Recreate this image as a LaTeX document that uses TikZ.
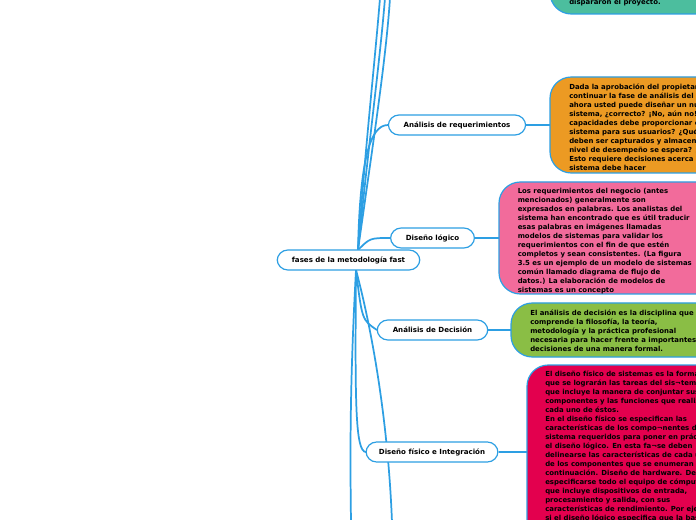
\documentclass[tikz,border=0pt]{standalone}
\usepackage{fontspec}
\setmainfont{DejaVu Sans}
\begin{document}
\begin{tikzpicture}[x=0.75pt,y=-0.75pt,
  branch/.style={draw=cLn, line width=0.9pt, fill=white, rounded corners=8pt, minimum height=15pt, inner xsep=4pt, font=\bfseries\fontsize{5.3}{6.5}\selectfont},
  link/.style={draw=cLn, line width=1.3pt},
  card/.style={draw=cLn, line width=0.9pt, rounded corners=16pt},
  txt/.style={anchor=north west, align=left, inner sep=0pt, font=\bfseries\fontsize{5.2}{6.75}\selectfont}]
\definecolor{cOr}{HTML}{EC9A23}
\definecolor{cPk}{HTML}{F26B9B}
\definecolor{cGr}{HTML}{8ABE45}
\definecolor{cRd}{HTML}{E3004E}
\definecolor{cTl}{HTML}{4CBE9E}
\definecolor{cLn}{HTML}{2D9FE3}
\useasboundingbox (0,0) rectangle (696,520);
\clip (0,0) rectangle (696,520);
\fill[white] (0,0) rectangle (696,520);
% cards
\draw[card,fill=cTl] (550,-80) rectangle (720,14);
\draw[card,fill=cOr] (550,77) rectangle (720,173);
\draw[card,fill=cPk] (499,182) rectangle (720,294);
\draw[card,fill=cGr] (511,303) rectangle (720,357);
\draw[card,fill=cRd] (527,365) rectangle (720,560);
\coordinate (or) at (550,125);
\coordinate (pk) at (499,238);
\coordinate (gr) at (511,330);
\coordinate (rd) at (527,452);
\coordinate (up1) at (380,-2);
\coordinate (up2) at (385,-2);
\coordinate (up3) at (390,-2);
\coordinate (dn1) at (351,522);
\coordinate (dn2) at (392,522);
\coordinate (rn) at (358,250);
\coordinate (rs) at (356,270);
\draw[link] (rn) .. controls (365,150) and (375,60) .. (up1);
\draw[link] (rn) .. controls (368,150) and (380,60) .. (up2);
\draw[link] (rn) .. controls (372,150) and (386,60) .. (up3);
\draw[link] (rn) .. controls (360,160) and (370,125) .. (388,125);
\draw[link] (rn) .. controls (370,238) .. (390,238);
\draw[link] (rs) .. controls (362,320) .. (377,330);
\draw[link] (rs) .. controls (355,400) and (355,452) .. (366,452);
\draw[link] (rs) .. controls (350,380) and (350,450) .. (dn1);
\draw[link] (rs) .. controls (372,330) and (388,420) .. (dn2);
% root and branches
\node[branch, minimum width=107pt] (root) at (348.5,260) {fases de la metodología fast};
\node[branch, minimum width=103pt] (ar) at (457,125) {Análisis de requerimientos};
\node[branch, minimum width=63pt] (dl) at (432.5,238) {Diseño lógico};
\node[branch, minimum width=83pt] (ad) at (432.5,330) {Análisis de Decisión};
\node[branch, minimum width=99pt] (df) at (432,452) {Diseño físico e Integración};
\draw[link] (ar.east) -- (or);
\draw[link] (dl.east) -- (pk);
\draw[link] (ad.east) -- (gr);
\draw[link] (df.east) -- (rd);
% texts
\node[txt] (t0) at (569,-1) {dispararon el proyecto.};
\node[txt] (t1) at (569,84) {Dada la aprobación del propietario para\\continuar la fase de análisis  del sistema,\\ahora usted puede diseñar un nuevo\\sistema, ¿correcto? ¡No, aún no! ¿Qué\\capacidades debe proporcionar el nuevo\\sistema para sus usuarios? ¿Qué datos\\deben ser  capturados y almacenados? ¿Qué\\nivel de desempeño se espera? ¡Etcétera!\\Esto requiere  decisiones acerca de lo que el\\sistema debe hacer};
\node[txt] (t2) at (517.5,188) {Los requerimientos del negocio (antes\\mencionados) generalmente son\\expresados  en palabras. Los analistas del\\sistema han encontrado que es útil traducir\\esas palabras en imágenes  llamadas\\modelos de sistemas para validar los\\requerimientos con el fin de que estén\\completos y  sean consistentes. (La figura\\3.5 es un ejemplo de un modelo de sistemas\\común llamado diagrama  de flujo de\\datos.) La elaboración de modelos de\\sistemas es un concepto};
\node[txt] (t3) at (530,310) {El análisis de decisión es la disciplina que\\comprende la filosofía, la teoría,\\metodología y la práctica profesional\\necesaria para hacer frente a importantes\\decisiones de una manera formal.};
\node[txt] (t4) at (545,371) {El diseño físico de sistemas es la forma en\\que se lograrán las tareas del sis¬tema,\\que incluye la manera de conjuntar sus\\componentes y las funciones que realiza\\cada uno de éstos.\\En el diseño físico se especifican las\\características de los compo¬nentes del\\sistema requeridos para poner en práctica\\el diseño lógico. En esta fa¬se deben\\delinearse las características de cada uno\\de los componentes que se enumeran a\\continuación. Diseño de hardware. Debe\\especificarse todo el equipo de cómputo\\que incluye dispositivos de entrada,\\procesamiento y salida, con sus\\características de rendimiento. Por ejemplo,\\si el diseño lógico especifica que la base de\\datos debe contener grandes volúmenes};
\end{tikzpicture}
\end{document}
